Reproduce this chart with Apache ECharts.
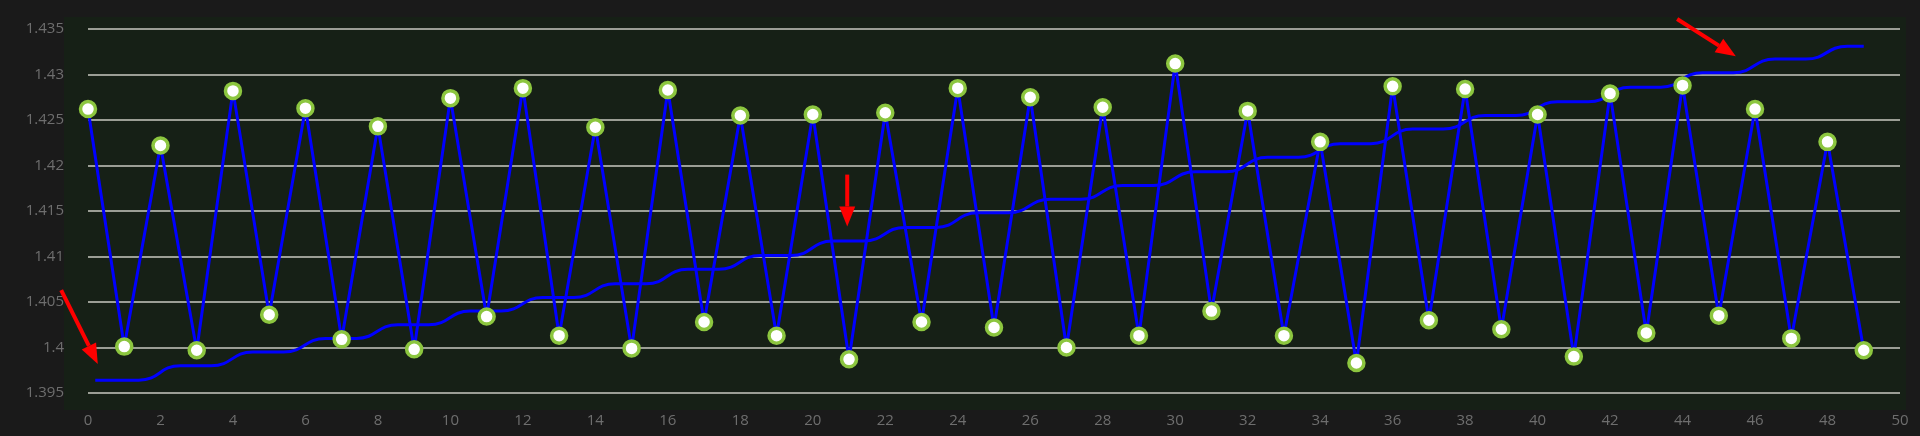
<!DOCTYPE html>
<html><head><meta charset="utf-8">
<script src="https://cdn.jsdelivr.net/npm/echarts@6/dist/echarts.min.js"></script>
<style>html,body{margin:0;background:#1a1a1a}#c{width:1920px;height:436px}</style></head>
<body><div id="c"></div>
<script>
const zigValues=[1.4262,1.4001,1.4222,1.3997,1.4282,1.4036,1.4263,1.4009,1.4243,1.3998,1.4274,1.4034,1.4285,1.4013,1.4242,1.3999,1.4283,1.4028,1.4255,1.4013,1.4256,1.3987,1.4258,1.4028,1.4285,1.4022,1.4275,1.4000,1.4264,1.4013,1.4312,1.4040,1.4260,1.4013,1.4226,1.3983,1.4287,1.4030,1.4284,1.4020,1.4256,1.3990,1.4279,1.4016,1.4288,1.4035,1.4262,1.4010,1.4226,1.3997];
const trendX=[1,3,5,7,9,11,13,15,17,19,21,23,25,27,29,31,33,35,37,39,41,43,45,47,49];
const trendValues=[1.3964,1.3980,1.3995,1.4010,1.4025,1.4040,1.4055,1.4070,1.4086,1.4101,1.4117,1.4132,1.4148,1.4163,1.4178,1.4193,1.4209,1.4224,1.4240,1.4255,1.4270,1.4286,1.4302,1.4317,1.4331];
const arrows=[[[-0.74,1.4063],[0.27,1.3982]],[[20.95,1.4190],[20.95,1.4133]],[[43.85,1.4361],[45.47,1.4320]]];
const yTicks={min:1.395,max:1.435,interval:0.005};

const trendData=[];
trendX.forEach((x,i)=>{
  if(i===0){trendData.push([x-0.8,trendValues[i]]);trendData.push([x+0.4,trendValues[i]]);}
  else if(i===trendX.length-1){trendData.push([x-0.45,trendValues[i]]);trendData.push([x,trendValues[i]]);}
  else{trendData.push([x-0.45,trendValues[i]]);trendData.push([x+0.4,trendValues[i]]);}
});
const chart=echarts.init(document.getElementById('c'));
chart.setOption({
  backgroundColor:'#1a1a1a',animation:false,
  grid:{left:88,right:20,top:29,bottom:43},
  xAxis:{type:'value',min:0,max:50,interval:2,axisLine:{show:false},axisTick:{show:false},splitLine:{show:false},
    axisLabel:{color:'#6e6e6e',fontSize:15,margin:20,fontFamily:'Open Sans'}},
  yAxis:{type:'value',min:yTicks.min,max:yTicks.max,interval:yTicks.interval,axisLine:{show:false},axisTick:{show:false},
    splitLine:{lineStyle:{color:'#c8c8c0',width:1.5}},
    axisLabel:{color:'#6e6e6e',fontSize:15,margin:24,fontFamily:'Open Sans',formatter:v=>String(+v.toFixed(3))}},
  series:[
    {type:'line',data:trendData,smooth:0.5,symbol:'none',lineStyle:{color:'#0000ff',width:3},z:3},
    {type:'line',data:zigValues.map((v,i)=>[i,v]),symbol:'circle',symbolSize:15,clip:false,
      lineStyle:{color:'#0000ff',width:3},itemStyle:{color:'#ffffff',borderColor:'#8cc63f',borderWidth:3.5},z:4}
  ]
});
const g=[{type:'rect',z:-10,shape:{x:64,y:17,width:1842,height:393},style:{fill:'#162016'}}];
arrows.forEach(a=>{
  const p0=chart.convertToPixel({gridIndex:0},a[0]);
  const p1=chart.convertToPixel({gridIndex:0},a[1]);
  const dx=p1[0]-p0[0],dy=p1[1]-p0[1],L=Math.hypot(dx,dy),ux=dx/L,uy=dy/L;
  const hl=20,hw=8;
  const bx=p1[0]-ux*hl,by=p1[1]-uy*hl;
  g.push({type:'line',z:100,shape:{x1:p0[0],y1:p0[1],x2:bx,y2:by},style:{stroke:'#ff0000',lineWidth:4}});
  g.push({type:'polygon',z:100,shape:{points:[[p1[0],p1[1]],[bx-uy*hw,by+ux*hw],[bx+uy*hw,by-ux*hw]]},style:{fill:'#ff0000'}});
});
chart.setOption({graphic:g});
</script></body></html>
